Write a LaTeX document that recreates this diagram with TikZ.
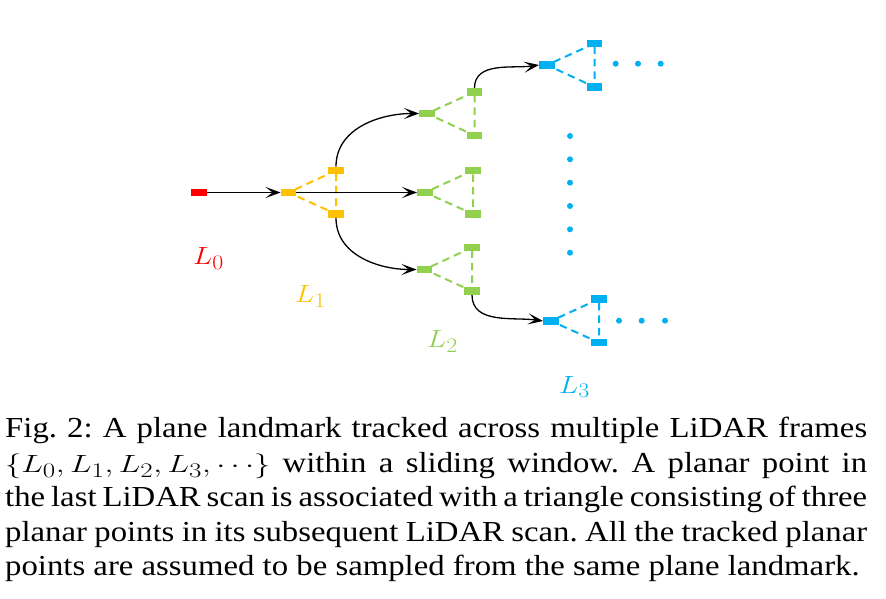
\documentclass[tikz,border=0pt]{standalone}
\usepackage{fontspec}
\usepackage{graphicx}
\setmainfont[FakeStretch=1.13]{Liberation Serif}
\usetikzlibrary{arrows.meta}
\definecolor{cred}{HTML}{FF0000}
\definecolor{cyel}{HTML}{FFC000}
\definecolor{cgrn}{HTML}{92D050}
\definecolor{cblu}{HTML}{00B0F0}
\begin{document}
\begin{tikzpicture}[x=1pt,y=-1pt,
  pt/.style={rectangle,fill=#1,draw=none,minimum width=15.5pt,minimum height=7.5pt,inner sep=0pt},
  dsh/.style={draw=#1,line width=2pt,dash pattern=on 7.5pt off 5pt},
  arr/.style={draw=black,line width=1.3pt,-{Stealth[length=15pt,width=11pt,inset=7pt]}},
  lbl/.style={text=#1,inner sep=0pt,anchor=base west,font=\fontsize{31}{36}\selectfont},
  dot/.style={fill=cblu}]
\useasboundingbox (0,0) rectangle (886,599);
% L0
\node[pt=cred] (r) at (199,192.5) {};
% L1
\node[pt=cyel] (yl) at (288.5,192.5) {};
\node[pt=cyel] (yt) at (336,170.5) {};
\node[pt=cyel] (yb) at (336,214) {};
% L2 top
\node[pt=cgrn] (a1) at (427,113.5) {};
\node[pt=cgrn] (a2) at (474.5,92) {};
\node[pt=cgrn] (a3) at (474.5,135.5) {};
% L2 middle
\node[pt=cgrn] (b1) at (425,192.5) {};
\node[pt=cgrn] (b2) at (473,170.5) {};
\node[pt=cgrn] (b3) at (473,214) {};
% L2 bottom
\node[pt=cgrn] (c1) at (424.5,269.5) {};
\node[pt=cgrn] (c2) at (472,247.5) {};
\node[pt=cgrn] (c3) at (472,291) {};
% L3 top
\node[pt=cblu] (d1) at (547,65) {};
\node[pt=cblu] (d2) at (594.5,43.5) {};
\node[pt=cblu] (d3) at (594.5,87) {};
% L3 bottom
\node[pt=cblu] (e1) at (551,321) {};
\node[pt=cblu] (e2) at (599,299) {};
\node[pt=cblu] (e3) at (599,342.5) {};
% dashed triangles
\draw[dsh=cyel] (yt.center) -- (yl.center) -- (yb.center) -- (yt.center);
\draw[dsh=cgrn] (a2.center) -- (a1.center) -- (a3.center) -- (a2.center);
\draw[dsh=cgrn] (b2.center) -- (b1.center) -- (b3.center) -- (b2.center);
\draw[dsh=cgrn] (c2.center) -- (c1.center) -- (c3.center) -- (c2.center);
\draw[dsh=cblu] (d2.center) -- (d1.center) -- (d3.center) -- (d2.center);
\draw[dsh=cblu] (e2.center) -- (e1.center) -- (e3.center) -- (e2.center);
% redraw points on top
\foreach \n/\c in {yl/cyel,yt/cyel,yb/cyel,a1/cgrn,a2/cgrn,a3/cgrn,b1/cgrn,b2/cgrn,b3/cgrn,c1/cgrn,c2/cgrn,c3/cgrn,d1/cblu,d2/cblu,d3/cblu,e1/cblu,e2/cblu,e3/cblu}
  \fill[\c] (\n.south west) rectangle (\n.north east);
% arrows
\draw[arr] (r.east) -- (yl.west);
\draw[arr] (yl.east) -- (b1.west);
\draw[arr] (yt.north) to[out=90,in=180] (a1.west);
\draw[arr] (yb.south) to[out=-90,in=180] (c1.west);
\draw[arr] (a2.north) to[out=90,in=188] (d1.west);
\draw[arr] (c3.south) to[out=-90,in=172] (e1.west);
% dots
\foreach \x in {615.7,638,660.7} \fill[dot] (\x,63.7) circle (3pt);
\foreach \x in {619,641.7,665} \fill[dot] (\x,320.7) circle (3pt);
\foreach \y in {136,159.3,182.7,206,229.3,252.7} \fill[dot] (570,\y) circle (3pt);
% labels
\node[lbl=cred] (l0) at (193,264.3) {\scalebox{1.15}[1]{$L_0$}};
\node[lbl=cyel] (l1) at (295,302.7) {\scalebox{1.15}[1]{$L_1$}};
\node[lbl=cgrn] (l2) at (427,347.7) {\scalebox{1.15}[1]{$L_2$}};
\node[lbl=cblu] (l3) at (559,393) {\scalebox{1.15}[1]{$L_3$}};
% caption
\node[anchor=base west,inner sep=0pt,text width=862pt,align=justify,
      font=\fontsize{29}{34.5}\selectfont\frenchspacing] (cap) at (5,437.7)
 {Fig. 2: A plane landmark tracked across multiple LiDAR frames\linebreak
  {\fontsize{30}{34.5}\selectfont\scalebox{1.3}[1]{$\{L_0,L_1,L_2,L_3,\cdots\}$}} within a sliding window. A planar point in\linebreak
  the last LiDAR scan is associated with a triangle consisting of three\linebreak
  planar points in its subsequent LiDAR scan. All the tracked planar\linebreak
  points are assumed to be sampled from the same plane landmark.};
\end{tikzpicture}
\end{document}
